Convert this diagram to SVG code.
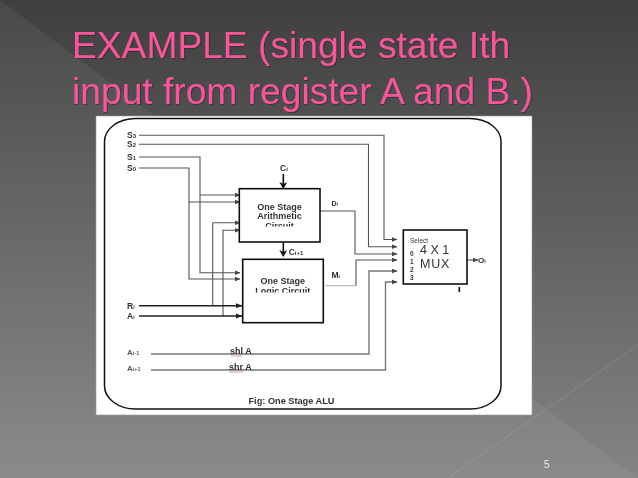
<svg xmlns="http://www.w3.org/2000/svg" width="638" height="478" viewBox="0 0 638 478">
<style>
.l{fill:none;stroke:#555;stroke-width:1.1;marker-end:url(#a)}
.g{fill:none;stroke:#777;stroke-width:1.4;marker-end:url(#a)}
.t{fill:none;stroke:#222;stroke-width:1.6;marker-end:url(#d)}
.f{fill:none;stroke:#111;stroke-width:1.6;marker-end:url(#k)}
.b{fill:#fff;stroke:#111;stroke-width:1.6}
.s{filter:url(#soft)}
text{font-family:"Liberation Sans",Arial,sans-serif;fill:#333;font-weight:bold}
.c{text-anchor:middle}
.n{font-weight:normal}
.y{fill:#555}
.h{font-size:37.2px;font-weight:normal;fill:#f8559b;filter:url(#sh)}
.p{font-size:10px;font-weight:normal;fill:#e8e8e8}
.r{fill:none;stroke:#d88;stroke-width:.8}
</style>
<defs>
<linearGradient id="bg" x1="0" y1="0" x2="0" y2="1"><stop offset="0" stop-color="#3f3f3f"/><stop offset="1" stop-color="#848484"/></linearGradient>
<filter id="soft" x="-5%" y="-5%" width="110%" height="110%"><feGaussianBlur stdDeviation=".3"/></filter>
<filter id="sh" x="-5%" y="-20%" width="110%" height="140%"><feDropShadow dx=".8" dy=".8" stdDeviation=".7" flood-color="#222" flood-opacity=".6"/></filter>
<marker id="a" markerWidth="6" markerHeight="6" refX="5" refY="3" orient="auto" markerUnits="userSpaceOnUse"><path d="M0,0.8L5.5,3L0,5.2z" fill="#444"/></marker>
<marker id="d" markerWidth="7" markerHeight="7" refX="6" refY="3.5" orient="auto" markerUnits="userSpaceOnUse"><path d="M0,1L6.500,3.500L0,6z" fill="#222"/></marker>
<marker id="k" markerWidth="9" markerHeight="9" refX="6" refY="4" orient="auto" markerUnits="userSpaceOnUse"><path d="M0,0L7,4L0,8L2,4z" fill="#111"/></marker>
<clipPath id="c1"><rect x="240" y="190" width="79" height="36.500"/></clipPath>
<clipPath id="c2"><rect x="244" y="260" width="78" height="32.500"/></clipPath>
</defs>
<rect width="638" height="478" fill="url(#bg)"/>
<path d="M0,0L638,478H0z" fill="#fff" opacity=".055"/>
<path d="M638,345L448,478" stroke="#fff" stroke-opacity=".13" fill="none"/>
<text class="h" x="72" y="58">EXAMPLE (single state Ith</text>
<text class="h" x="72" y="104">input from register A and B.)</text>
<rect x="96" y="116" width="436" height="299" fill="#fff" stroke="#999" stroke-width=".6"/>
<rect x="104.500" y="118.500" width="396.500" height="290.500" rx="31" ry="23" fill="#fff" stroke="#111" stroke-width="1.5"/>
<g id="connectors" class="s">
<path class="l" d="M139,135.300H384V239.500H397"/>
<path class="l" d="M139,144.300H368.500V246.700H397"/>
<path class="l" d="M320,211H355V254H397"/>
<path d="M325,285.700H356" fill="none" stroke="#bbb" stroke-width="1.2"/>
<path class="l" d="M356,285.700V260H397"/>
<path class="g" d="M151,354H369V271H397"/>
<path class="g" d="M151,370H385.500V282H397"/>
<path class="l" d="M139,157H200V272.700H240"/>
<path class="l" d="M200,195H240"/>
<path class="l" d="M139,168H189V279H240"/>
<path class="l" d="M189,202H240"/>
<path class="l" d="M212.700,305.700V222.700H240"/>
<path class="l" d="M223,316V230.300H240"/>
<path class="t" d="M139,305.700H242"/>
<path class="t" d="M139,316H242"/>
<path class="f" d="M283.300,174V188"/>
<path class="f" d="M283.300,242V256"/>
<path class="l" d="M467,260H478"/>
<path d="M459.300,287V292" stroke="#111" stroke-width="1.6" fill="none"/>
<path class="r" d="M231,356H243"/>
<path class="r" d="M229,372H244"/>
</g>
<g id="labels" class="s">
<text x="127" y="137.500" font-size="8.500">S<tspan font-size="6">3</tspan></text>
<text x="127" y="147" font-size="8.500">S<tspan font-size="6">2</tspan></text>
<text x="127" y="160" font-size="8.500">S<tspan font-size="6">1</tspan></text>
<text x="127" y="170.500" font-size="8.500">S<tspan font-size="6">0</tspan></text>
<text x="127" y="308.500" font-size="8.500">R<tspan font-size="5">i</tspan></text>
<text x="127" y="319" font-size="8.500">A<tspan font-size="5">i</tspan></text>
<text class="y" x="127" y="355" font-size="8">A<tspan font-size="5.500">i-1</tspan></text>
<text class="y" x="127" y="371" font-size="8">A<tspan font-size="5.500">i+1</tspan></text>
<text x="230" y="354" font-size="9">shl A</text>
<text x="229" y="370" font-size="9">shr A</text>
<text x="280" y="171" font-size="8.500">C<tspan font-size="6">i</tspan></text>
<text x="288.700" y="254.500" font-size="8.500">C<tspan font-size="6">i+1</tspan></text>
<text x="331.500" y="206" font-size="7">D<tspan font-size="5">i</tspan></text>
<text x="331.500" y="278" font-size="8.500">M<tspan font-size="5">i</tspan></text>
<text x="478" y="263" font-size="8">O<tspan font-size="5.500">i</tspan></text>
<text x="248.500" y="403.500" font-size="9.200">Fig: One Stage ALU</text>
</g>
<g id="arith" class="s"><rect class="b" x="239.300" y="188.700" width="80.700" height="53.300"/>
<g clip-path="url(#c1)"><text class="c" x="279.500" y="209.700" font-size="9">One Stage</text><text class="c" x="279.500" y="218.700" font-size="9">Arithmetic</text><text class="c" x="279.500" y="228.500" font-size="9">Circuit</text></g></g>
<g id="logic" class="s"><rect class="b" x="242.700" y="259.300" width="80.600" height="63.400"/>
<g clip-path="url(#c2)"><text class="c" x="282.700" y="284.300" font-size="9">One Stage</text><text class="c" x="282.700" y="294" font-size="9">Logic Circuit</text></g></g>
<g id="mux" class="s"><rect class="b" x="403.300" y="230" width="63.700" height="54"/>
<text class="n" x="410" y="243.300" font-size="6.500">Select</text>
<text x="410" y="256" font-size="6.500">0</text><text x="410" y="264" font-size="6.500">1</text><text x="410" y="271.700" font-size="6.500">2</text><text x="410" y="279.500" font-size="6.500">3</text>
<text class="n" x="420" y="254" font-size="12.500">4 X 1</text>
<text class="n" x="420" y="267.700" font-size="12.500" letter-spacing=".8">MUX</text></g>
<text class="p" x="544" y="468">5</text>
</svg>
